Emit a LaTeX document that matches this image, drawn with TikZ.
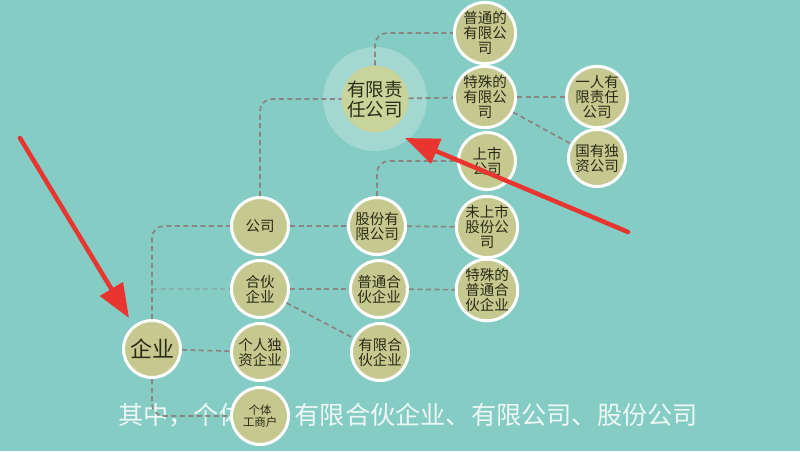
\documentclass[tikz,border=0pt]{standalone}
\usepackage{fontspec}
\setmainfont{Noto Sans CJK SC}
\usetikzlibrary{arrows.meta}
\definecolor{bg}{HTML}{85CCC4}
\definecolor{nodefill}{HTML}{C6C98F}
\definecolor{glowc}{HTML}{A3D7D1}
\definecolor{innerc}{HTML}{C9D49A}
\definecolor{txt}{HTML}{2A2A16}
\definecolor{dashc}{HTML}{8C8480}
\definecolor{redc}{HTML}{E8352F}
\tikzset{
  ent/.style={circle, draw=white, line width=3pt, fill=nodefill, minimum size=57pt, inner sep=0pt,
    align=center, text=txt, font=\fontsize{14.5}{15}\selectfont},
  conn/.style={draw=dashc, line width=1.7pt, dash pattern=on 5pt off 3.5pt, rounded corners=12pt},
  redarrow/.style={draw=redc, line width=4.5pt, -{Triangle[length=34pt,width=26pt]}, line cap=round},
}
\begin{document}
\begin{tikzpicture}[x=1pt,y=-1pt]
\fill[bg] (0,0) rectangle (800,451);
\useasboundingbox (0,0) rectangle (800,451);
% glow and the focused node
\node[circle, fill=glowc, minimum size=104pt, inner sep=0pt] (glow) at (375,99) {};
\node[circle, fill=innerc, minimum size=66pt, inner sep=0pt, align=center, text=txt,
  font=\fontsize{18.5}{20}\selectfont] (youxian) at (375,99) {有限责\\任公司};
% caption (lies below the nodes)
\node[text=white, opacity=0.85, font=\fontsize{25.2}{26}\selectfont, anchor=west, inner sep=0pt] (cap) at (118,415)
  {其中，个体户、有限合伙企业、有限公司、股份公司};
% nodes
\node[ent, font=\fontsize{22}{23}\selectfont] (qiye) at (152,349) {企业};
\node[ent] (gongsi) at (260,226) {公司};
\node[ent] (hehuo) at (260,289) {合伙\\企业};
\node[ent] (duzi) at (260,352) {个人独\\资企业};
\node[ent, font=\fontsize{11.5}{12}\selectfont] (geti) at (260,416) {个体\\工商户};
\node[ent] (gufen) at (377,226) {股份有\\限公司};
\node[ent] (pthh) at (379,289) {普通合\\伙企业};
\node[ent] (yxhh) at (380,352) {有限合\\伙企业};
\node[ent] (putong) at (485,33) {普通的\\有限公\\司};
\node[ent] (teshu) at (485,97) {特殊的\\有限公\\司};
\node[ent] (shangshi) at (487,161) {上市\\公司};
\node[ent] (weishang) at (487,227) {未上市\\股份公\\司};
\node[ent] (tspt) at (487,290) {特殊的\\普通合\\伙企业};
\node[ent] (yiren) at (597,97) {一人有\\限责任\\公司};
\node[ent] (guoyou) at (597,158) {国有独\\资公司};
% connectors
\draw[conn] (qiye) -- (duzi);
\draw[conn] (qiye.north) |- (gongsi.west);
\draw[conn, opacity=0.35] (qiye.north |- hehuo.west) -- (hehuo.west);
\draw[conn] (qiye.south) |- (geti.west);
\draw[conn] (gongsi) -- (gufen);
\draw[conn] (gongsi.north) |- (youxian.west);
\draw[conn] (hehuo) -- (pthh);
\draw[conn] (hehuo) -- (yxhh);
\draw[conn] (gufen.north) |- (shangshi.west);
\draw[conn] (gufen) -- (weishang);
\draw[conn] (pthh) -- (tspt);
\draw[conn] (youxian) -- (teshu);
\draw[conn] (youxian.north) |- (putong.west);
\draw[conn] (teshu) -- (yiren);
\draw[conn] (teshu) -- (guoyou);
% red arrows
\coordinate (a1s) at (20,138);
\coordinate (a1e) at (129,318);
\coordinate (a2s) at (628,232);
\coordinate (a2e) at (405,138);
\draw[redarrow] (a1s) -- (a1e);
\draw[redarrow] (a2s) -- (a2e);
\end{tikzpicture}
\end{document}
